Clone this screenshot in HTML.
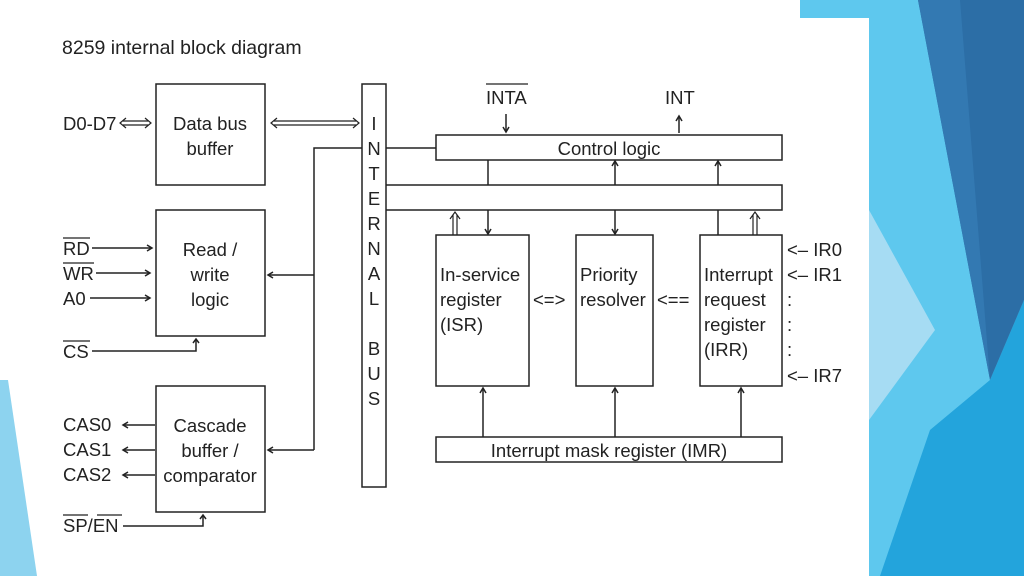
<!DOCTYPE html>
<html><head><meta charset="utf-8"><style>
html,body{margin:0;padding:0;background:#fff;}
svg{display:block;}
text{font-family:"Liberation Sans",sans-serif;font-size:18.5px;fill:#222;}
</style></head><body>
<svg width="1024" height="576" viewBox="0 0 1024 576" xmlns="http://www.w3.org/2000/svg">
<rect width="1024" height="576" fill="#fff"/>
<polygon points="800,0 1024,0 1024,576 869,576 869,18 800,18" fill="#5ec8ee"/>
<polygon points="869,210 935,330 869,420" fill="#a6dcf3"/>
<polygon points="880,576 1024,576 1024,300 990,380 930,430" fill="#23a4dc"/>
<polygon points="918,0 1024,0 1024,300 990,380" fill="#2c6ea6"/>
<polygon points="918,0 960,0 990,380" fill="#3379b2"/>
<polygon points="0,380 8,380 37,576 0,576" fill="#8dd3ef"/>

<g stroke="#222" stroke-width="1.5" fill="none">
<rect x="156" y="84" width="109" height="101"/>
<rect x="156" y="210" width="109" height="126"/>
<rect x="156" y="386" width="109" height="126"/>
<rect x="362" y="84" width="24" height="403"/>
<rect x="436" y="135" width="346" height="25"/>
<path d="M386 185 H782 V210 H386"/>
<line x1="386" y1="148" x2="436" y2="148"/>
<rect x="436" y="235" width="93" height="151"/>
<rect x="576" y="235" width="77" height="151"/>
<rect x="700" y="235" width="82" height="151"/>
<rect x="436" y="437" width="346" height="25"/>
<path d="M362 148 H314 V450"/>
<line x1="314" y1="275" x2="268" y2="275"/><path d="M273 272 L268 275 L273 278"/>
<line x1="314" y1="450" x2="268" y2="450"/><path d="M273 447 L268 450 L273 453"/>
<line x1="488" y1="160" x2="488" y2="185"/>
<line x1="615" y1="185" x2="615" y2="161"/><path d="M612 166 L615 161 L618 166"/>
<line x1="718" y1="185" x2="718" y2="161"/><path d="M715 166 L718 161 L721 166"/>
<line x1="488" y1="210" x2="488" y2="234"/><path d="M485 229 L488 234 L491 229"/>
<line x1="615" y1="210" x2="615" y2="234"/><path d="M612 229 L615 234 L618 229"/>
<line x1="718" y1="210" x2="718" y2="235"/>
<path d="M453 235 V215 M457 235 V215 M450 219 L455 212 L460 219" stroke-width="1.2"/>
<path d="M753 235 V215 M757 235 V215 M750 219 L755 212 L760 219" stroke-width="1.2"/>
<line x1="483" y1="437" x2="483" y2="388"/><path d="M480 393 L483 388 L486 393"/>
<line x1="615" y1="437" x2="615" y2="388"/><path d="M612 393 L615 388 L618 393"/>
<line x1="741" y1="437" x2="741" y2="388"/><path d="M738 393 L741 388 L744 393"/>
<line x1="506" y1="114" x2="506" y2="132"/><path d="M503 127 L506 132 L509 127"/>
<line x1="679" y1="133" x2="679" y2="116"/><path d="M676 121 L679 116 L682 121"/>
<path d="M123 121 H148 M123 125 H148 M126 118 L120 123 L126 128 M145 118 L151 123 L145 128" stroke-width="1.2"/>
<path d="M274 121 H356 M274 125 H356 M277 118 L271 123 L277 128 M353 118 L359 123 L353 128" stroke-width="1.2"/>
<line x1="92" y1="248" x2="152" y2="248"/><path d="M147 245 L152 248 L147 251"/>
<line x1="96" y1="273" x2="150" y2="273"/><path d="M145 270 L150 273 L145 276"/>
<line x1="90" y1="298" x2="150" y2="298"/><path d="M145 295 L150 298 L145 301"/>
<path d="M92 351 H196 V339"/><path d="M193 343 L196 339 L199 343"/>
<line x1="155" y1="425" x2="123" y2="425"/><path d="M128 422 L123 425 L128 428"/>
<line x1="155" y1="450" x2="123" y2="450"/><path d="M128 447 L123 450 L128 453"/>
<line x1="155" y1="475" x2="123" y2="475"/><path d="M128 472 L123 475 L128 478"/>
<path d="M123 526 H203 V515"/><path d="M200 519 L203 515 L206 519"/>
<line x1="486" y1="84" x2="528" y2="84" stroke-width="1.2"/>
<line x1="63" y1="238" x2="90" y2="238" stroke-width="1.2"/>
<line x1="63" y1="263" x2="94" y2="263" stroke-width="1.2"/>
<line x1="63" y1="341" x2="90" y2="341" stroke-width="1.2"/>
<line x1="63" y1="515" x2="88" y2="515" stroke-width="1.2"/>
<line x1="97" y1="515" x2="122" y2="515" stroke-width="1.2"/>
</g>

<text x="62" y="54" style="font-size:19.5px">8259 internal block diagram</text>
<text x="63" y="130">D0-D7</text>
<text x="210" y="130" text-anchor="middle">Data bus</text>
<text x="210" y="155" text-anchor="middle">buffer</text>
<text x="210" y="256" text-anchor="middle">Read /</text>
<text x="210" y="281" text-anchor="middle">write</text>
<text x="210" y="306" text-anchor="middle">logic</text>
<text x="210" y="432" text-anchor="middle">Cascade</text>
<text x="210" y="457" text-anchor="middle">buffer /</text>
<text x="210" y="482" text-anchor="middle">comparator</text>
<text x="63" y="255">RD</text>
<text x="63" y="280">WR</text>
<text x="63" y="305">A0</text>
<text x="63" y="358">CS</text>
<text x="63" y="431">CAS0</text>
<text x="63" y="456">CAS1</text>
<text x="63" y="481">CAS2</text>
<text x="63" y="532">SP/EN</text>
<g text-anchor="middle">
<text x="374" y="130">I</text><text x="374" y="155">N</text><text x="374" y="180">T</text>
<text x="374" y="205">E</text><text x="374" y="230">R</text><text x="374" y="255">N</text>
<text x="374" y="280">A</text><text x="374" y="305">L</text><text x="374" y="355">B</text>
<text x="374" y="380">U</text><text x="374" y="405">S</text>
<text x="609" y="155">Control logic</text>
<text x="609" y="457">Interrupt mask register (IMR)</text>
</g>
<text x="486" y="104">INTA</text>
<text x="665" y="104">INT</text>
<text x="440" y="281">In-service</text>
<text x="440" y="306">register</text>
<text x="440" y="331">(ISR)</text>
<text x="580" y="281">Priority</text>
<text x="580" y="306">resolver</text>
<text x="704" y="281">Interrupt</text>
<text x="704" y="306">request</text>
<text x="704" y="331">register</text>
<text x="704" y="356">(IRR)</text>
<text x="533" y="306">&lt;=&gt;</text>
<text x="657" y="306">&lt;==</text>
<text x="787" y="256">&lt;– IR0</text>
<text x="787" y="281">&lt;– IR1</text>
<text x="787" y="306">:</text>
<text x="787" y="331">:</text>
<text x="787" y="356">:</text>
<text x="787" y="382">&lt;– IR7</text>
</svg>
</body></html>
